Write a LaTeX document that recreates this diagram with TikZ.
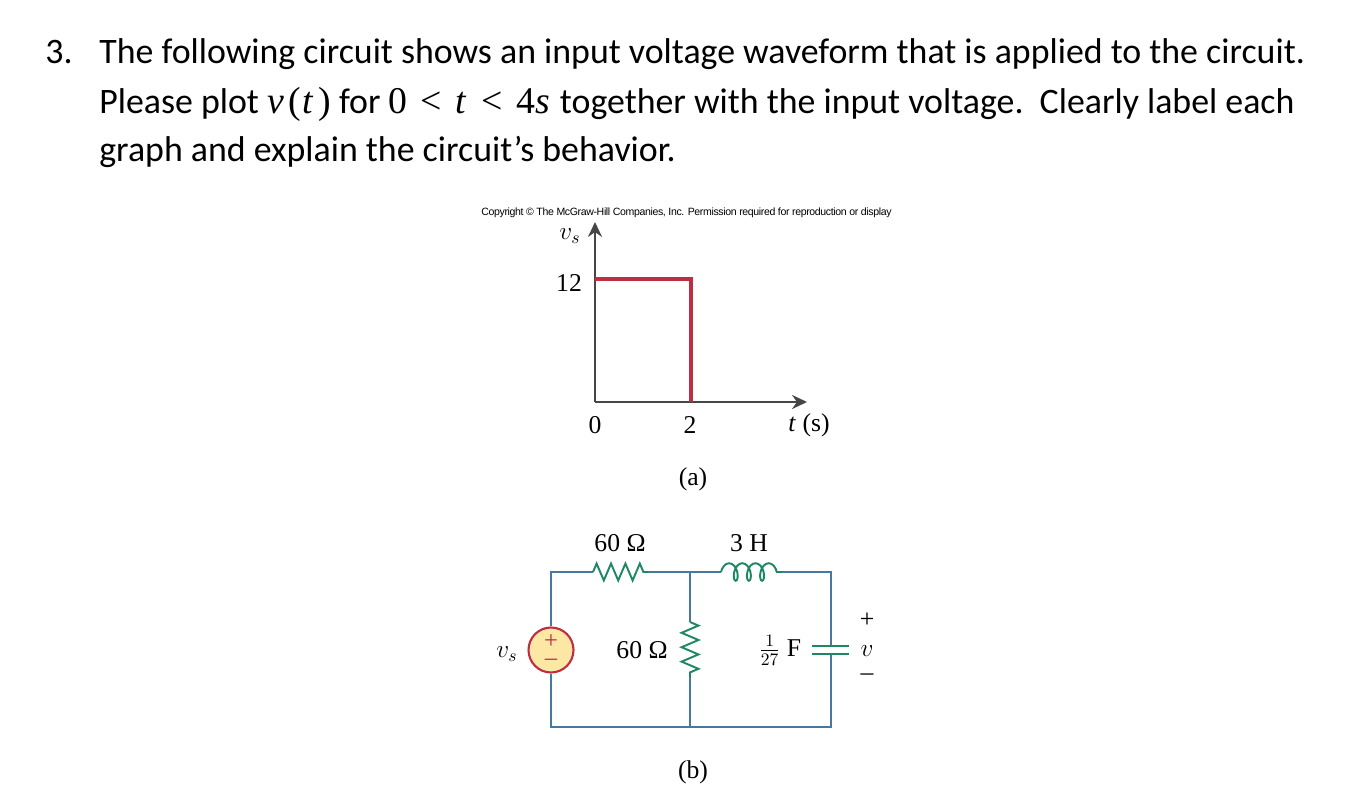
\documentclass[tikz,border=0pt]{standalone}
\usepackage{fontspec}
\setmainfont{Liberation Serif}
\newfontfamily\headfont{Carlito}
\newfontfamily\notefont[LetterSpace=-3.4]{Liberation Sans}
\newfontfamily\formulafont[LetterSpace=5]{Liberation Serif}
\usepackage{tikz}
\usetikzlibrary{arrows.meta, decorations.pathmorphing}
\definecolor{wireblue}{RGB}{72,120,160}
\definecolor{partgreen}{RGB}{30,135,100}
\definecolor{pulsered}{RGB}{190,45,65}
\definecolor{srcfill}{RGB}{253,231,165}
\definecolor{axisgray}{RGB}{70,70,70}
\tikzset{
    >={Stealth[length=8.5pt, width=8pt]}, % arrow heads of the axes
    x=0.02cm, y=-0.02cm, % one unit is one pixel of the page
    head/.style={anchor=base west, inner sep=0pt, font=\headfont\fontsize{20.4}{24}\selectfont}, % question text
    label/.style={inner sep=0pt, font=\fontsize{14.6}{17}\selectfont}, % labels of both figures
    axis/.style={->, line width=1.1pt, color=axisgray}, % axes of the waveform
    pulse/.style={line width=2pt, color=pulsered}, % input waveform
    wire/.style={line width=1.05pt, color=wireblue}, % circuit wires
    res/.style={line width=1.1pt, color=partgreen, decorate, decoration={zigzag, segment length=8.2pt, amplitude=4.8pt}}, % resistors
    ind/.style={line width=1.1pt, color=partgreen, decorate, decoration={coil, aspect=0.55, segment length=7.5pt, amplitude=5pt, pre length=0pt, post length=0pt}}, % inductor
    plate/.style={line width=1.1pt, color=partgreen}, % capacitor plates
    source/.style={circle, draw=pulsered, line width=1.2pt, fill=srcfill, minimum size=0.9cm, inner sep=0pt, align=center, text=pulsered, font=\fontsize{14}{10}\selectfont}, % voltage source
}
\newcommand{\formula}[1]{{\formulafont\fontsize{21.5}{24}\selectfont #1}}
\begin{document}
\begin{tikzpicture}
                            \useasboundingbox (0,0) rectangle (1364,800);
                            % question text
                            \node[head] (num) at (45,64) {3.};
                            \node[head] (line1) at (99,64) {The following circuit shows an input voltage waveform that is applied to the circuit.};
                            \node[head] (line2) at (99,114) {Please plot \formula{\textit{v}\kern1.3pt(\kern1.3pt\textit{t}\kern1.3pt)} for \formula{0\kern1.1pt\ <\kern1.1pt\ \textit{t}\kern1.1pt\ <\kern1.1pt\ 4\textit{s}} together with the input voltage.\ \ Clearly label each};
                            \node[head] (line3) at (99,162) {graph and explain the circuit’s behavior.};
                            \node[inner sep=0pt, font=\notefont\fontsize{6}{8}\selectfont] (note) at (686.5,213) {Copyright © The McGraw-Hill Companies, Inc. Permission required for reproduction or display};
                            % waveform (a)
                            \coordinate (o) at (595,402);
                            \coordinate (ytip) at (595,222);
                            \coordinate (xtip) at (807,402);
                            \coordinate (p12) at (595,279);
                            \coordinate (pc) at (691,279);
                            \coordinate (p2) at (691,402);
                            \draw[axis] (o) -- (ytip);
                            \draw[axis] (o) -- (xtip);
                            \draw[pulse] (p12) -- (pc) -- (p2);
                            \node[label] (vsa) at (570,236) {$v_s$};
                            \node[label] (l12) at (569,283) {12};
                            \node[label] (l0) at (595,425) {0};
                            \node[label] (l2) at (690,425) {2};
                            \node[label] (lt) at (809,425) {\textit{t} (s)};
                            \node[label] (la) at (693,479) {(a)};
                            % circuit (b)
                            \coordinate (tl) at (551,572);
                            \coordinate (tm) at (690,572);
                            \coordinate (tr) at (831,572);
                            \coordinate (bl) at (551,727);
                            \coordinate (bm) at (690,727);
                            \coordinate (br) at (831,727);
                            \coordinate (r1a) at (593,572);
                            \coordinate (r1b) at (648,572);
                            \coordinate (r2a) at (690,622);
                            \coordinate (r2b) at (690,677);
                            \coordinate (l1a) at (721,572);
                            \coordinate (l1b) at (782,572);
                            \coordinate (c1) at (831,646);
                            \coordinate (c2) at (831,654);
                            \coordinate (c1a) at (812,646);
                            \coordinate (c1b) at (849,646);
                            \coordinate (c2a) at (812,654);
                            \coordinate (c2b) at (849,654);
                            \node[source] (vs) at (551,650) {+\\--};
                            \draw[wire] (vs) -- (tl) -- (r1a);
                            \draw[wire] (r1b) -- (tm) -- (l1a);
                            \draw[wire] (l1b) -- (tr) -- (c1);
                            \draw[wire] (c2) -- (br) -- (bl) -- (vs);
                            \draw[wire] (tm) -- (r2a);
                            \draw[wire] (r2b) -- (bm);
                            \draw[res] (r1a) -- (r1b);
                            \draw[res] (r2a) -- (r2b);
                            \draw[ind] (l1a) -- (l1b);
                            \draw[plate] (c1a) -- (c1b);
                            \draw[plate] (c2a) -- (c2b);
                            \node[label] (lr1) at (620,543) {60 Ω};
                            \node[label] (lh) at (749,543) {3 H};
                            \node[label] (lr2) at (642,650) {60 Ω};
                            \node[label] (lc) at (780,650) {$\frac{1}{27}$ F};
                            \node[label] (lvs) at (507,654) {$v_s$};
                            \node[label] (lp) at (867,620) {+};
                            \node[label] (lv) at (867,651) {$v$};
                            \node[label] (lm) at (867,677) {--};
                            \node[label] (lb) at (693,772) {(b)};
                        \end{tikzpicture}
\end{document}
